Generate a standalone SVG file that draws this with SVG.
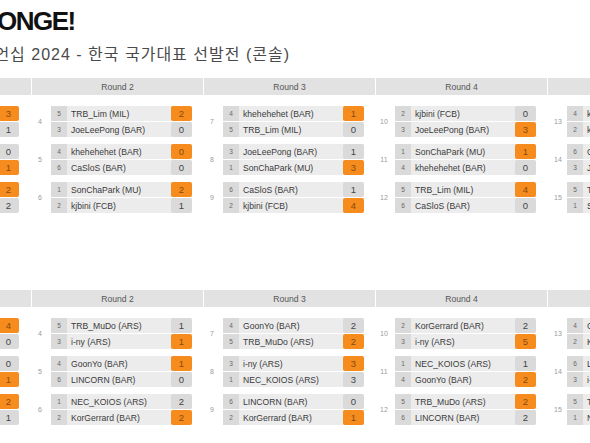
<svg xmlns="http://www.w3.org/2000/svg" width="590" height="443" viewBox="0 0 590 443">
<style>
text{font-family:"Liberation Sans",Arial,sans-serif}
.hd{fill:#e2e2e2}
.ht{font-size:8.6px;fill:#555;text-anchor:middle}
.nm{fill:#ececec}
.sd{fill:#dadada}
.sc{fill:#dadada}
.win{fill:#f68c1e}
.sdt{font-size:6.5px;fill:#666;text-anchor:middle}
.nmt{font-size:8.6px;fill:#3a3a3a}
.sct{font-size:9.5px;fill:#444;text-anchor:middle}
.wt{fill:#8a4a0c}
.mn{font-size:7px;fill:#9a9a9a;text-anchor:middle}
</style>
<rect width="590" height="443" fill="#fff"/>
<text x="-3" y="30" style="font-size:26px;font-weight:bold;letter-spacing:-1.5px;fill:#111">ONGE!</text>
<text x="290" y="60" style="font-family:'Liberation Sans','Noto Sans CJK KR',sans-serif;font-size:16px;letter-spacing:1px;fill:#4a4a4a;text-anchor:end">언십 2024 - 한국 국가대표 선발전 (콘솔)</text>

<g id="headers">
<rect class="hd" x="0" y="78" width="31" height="17"/>
<rect class="hd" x="32" y="78" width="171" height="17"/>
<rect class="hd" x="204" y="78" width="171" height="17"/>
<rect class="hd" x="376" y="78" width="171" height="17"/>
<rect class="hd" x="548" y="78" width="42" height="17"/>
<text class="ht" x="117.5" y="90">Round 2</text>
<text class="ht" x="289.5" y="90">Round 3</text>
<text class="ht" x="461.5" y="90">Round 4</text>
<rect class="hd" x="0" y="290" width="31" height="17"/>
<rect class="hd" x="32" y="290" width="171" height="17"/>
<rect class="hd" x="204" y="290" width="171" height="17"/>
<rect class="hd" x="376" y="290" width="171" height="17"/>
<rect class="hd" x="548" y="290" width="42" height="17"/>
<text class="ht" x="117.5" y="302">Round 2</text>
<text class="ht" x="289.5" y="302">Round 3</text>
<text class="ht" x="461.5" y="302">Round 4</text>
</g>

<g id="connectors"></g>

<!-- Top bracket, Round 1 (scores only visible) -->
<g id="t-m1" transform="translate(-2,106)">
<rect class="win" width="21" height="15" rx="2"/><rect class="sc" y="16" width="21" height="15" rx="2"/>
<text class="sct wt" x="10.5" y="11.3">3</text><text class="sct" x="10.5" y="27.3">1</text>
</g>
<g id="t-m2" transform="translate(-2,144)">
<rect class="sc" width="21" height="15" rx="2"/><rect class="win" y="16" width="21" height="15" rx="2"/>
<text class="sct" x="10.5" y="11.3">0</text><text class="sct wt" x="10.5" y="27.3">1</text>
</g>
<g id="t-m3" transform="translate(-2,182)">
<rect class="win" width="21" height="15" rx="2"/><rect class="sc" y="16" width="21" height="15" rx="2"/>
<text class="sct wt" x="10.5" y="11.3">2</text><text class="sct" x="10.5" y="27.3">2</text>
</g>

<!-- Top bracket, Round 2 -->
<g id="t-m4" transform="translate(51,106)">
<text class="mn" x="-11" y="18">4</text>
<rect class="nm" width="141" height="15" rx="2"/><rect class="nm" y="16" width="141" height="15" rx="2"/>
<rect class="sd" width="16" height="15"/><rect class="sd" y="16" width="16" height="15"/>
<rect class="win" x="120" width="21" height="15" rx="2"/><rect class="sc" x="120" y="16" width="21" height="15" rx="2"/>
<text class="sdt" x="8" y="10">5</text><text class="nmt" x="20" y="10.8">TRB_Lim (MIL)</text><text class="sct wt" x="130.5" y="11.3">2</text>
<text class="sdt" x="8" y="26">3</text><text class="nmt" x="20" y="26.8">JoeLeePong (BAR)</text><text class="sct" x="130.5" y="27.3">0</text>
</g>
<g id="t-m5" transform="translate(51,144)">
<text class="mn" x="-11" y="18">5</text>
<rect class="nm" width="141" height="15" rx="2"/><rect class="nm" y="16" width="141" height="15" rx="2"/>
<rect class="sd" width="16" height="15"/><rect class="sd" y="16" width="16" height="15"/>
<rect class="win" x="120" width="21" height="15" rx="2"/><rect class="sc" x="120" y="16" width="21" height="15" rx="2"/>
<text class="sdt" x="8" y="10">4</text><text class="nmt" x="20" y="10.8">khehehehet (BAR)</text><text class="sct wt" x="130.5" y="11.3">0</text>
<text class="sdt" x="8" y="26">6</text><text class="nmt" x="20" y="26.8">CaSloS (BAR)</text><text class="sct" x="130.5" y="27.3">0</text>
</g>
<g id="t-m6" transform="translate(51,182)">
<text class="mn" x="-11" y="18">6</text>
<rect class="nm" width="141" height="15" rx="2"/><rect class="nm" y="16" width="141" height="15" rx="2"/>
<rect class="sd" width="16" height="15"/><rect class="sd" y="16" width="16" height="15"/>
<rect class="win" x="120" width="21" height="15" rx="2"/><rect class="sc" x="120" y="16" width="21" height="15" rx="2"/>
<text class="sdt" x="8" y="10">1</text><text class="nmt" x="20" y="10.8">SonChaPark (MU)</text><text class="sct wt" x="130.5" y="11.3">2</text>
<text class="sdt" x="8" y="26">2</text><text class="nmt" x="20" y="26.8">kjbini (FCB)</text><text class="sct" x="130.5" y="27.3">1</text>
</g>

<!-- Top bracket, Round 3 -->
<g id="t-m7" transform="translate(223,106)">
<text class="mn" x="-11" y="18">7</text>
<rect class="nm" width="141" height="15" rx="2"/><rect class="nm" y="16" width="141" height="15" rx="2"/>
<rect class="sd" width="16" height="15"/><rect class="sd" y="16" width="16" height="15"/>
<rect class="win" x="120" width="21" height="15" rx="2"/><rect class="sc" x="120" y="16" width="21" height="15" rx="2"/>
<text class="sdt" x="8" y="10">4</text><text class="nmt" x="20" y="10.8">khehehehet (BAR)</text><text class="sct wt" x="130.5" y="11.3">1</text>
<text class="sdt" x="8" y="26">5</text><text class="nmt" x="20" y="26.8">TRB_Lim (MIL)</text><text class="sct" x="130.5" y="27.3">0</text>
</g>
<g id="t-m8" transform="translate(223,144)">
<text class="mn" x="-11" y="18">8</text>
<rect class="nm" width="141" height="15" rx="2"/><rect class="nm" y="16" width="141" height="15" rx="2"/>
<rect class="sd" width="16" height="15"/><rect class="sd" y="16" width="16" height="15"/>
<rect class="sc" x="120" width="21" height="15" rx="2"/><rect class="win" x="120" y="16" width="21" height="15" rx="2"/>
<text class="sdt" x="8" y="10">3</text><text class="nmt" x="20" y="10.8">JoeLeePong (BAR)</text><text class="sct" x="130.5" y="11.3">1</text>
<text class="sdt" x="8" y="26">1</text><text class="nmt" x="20" y="26.8">SonChaPark (MU)</text><text class="sct wt" x="130.5" y="27.3">3</text>
</g>
<g id="t-m9" transform="translate(223,182)">
<text class="mn" x="-11" y="18">9</text>
<rect class="nm" width="141" height="15" rx="2"/><rect class="nm" y="16" width="141" height="15" rx="2"/>
<rect class="sd" width="16" height="15"/><rect class="sd" y="16" width="16" height="15"/>
<rect class="sc" x="120" width="21" height="15" rx="2"/><rect class="win" x="120" y="16" width="21" height="15" rx="2"/>
<text class="sdt" x="8" y="10">6</text><text class="nmt" x="20" y="10.8">CaSloS (BAR)</text><text class="sct" x="130.5" y="11.3">1</text>
<text class="sdt" x="8" y="26">2</text><text class="nmt" x="20" y="26.8">kjbini (FCB)</text><text class="sct wt" x="130.5" y="27.3">4</text>
</g>

<!-- Top bracket, Round 4 -->
<g id="t-m10" transform="translate(395,106)">
<text class="mn" x="-11" y="18">10</text>
<rect class="nm" width="141" height="15" rx="2"/><rect class="nm" y="16" width="141" height="15" rx="2"/>
<rect class="sd" width="16" height="15"/><rect class="sd" y="16" width="16" height="15"/>
<rect class="sc" x="120" width="21" height="15" rx="2"/><rect class="win" x="120" y="16" width="21" height="15" rx="2"/>
<text class="sdt" x="8" y="10">2</text><text class="nmt" x="20" y="10.8">kjbini (FCB)</text><text class="sct" x="130.5" y="11.3">0</text>
<text class="sdt" x="8" y="26">3</text><text class="nmt" x="20" y="26.8">JoeLeePong (BAR)</text><text class="sct wt" x="130.5" y="27.3">3</text>
</g>
<g id="t-m11" transform="translate(395,144)">
<text class="mn" x="-11" y="18">11</text>
<rect class="nm" width="141" height="15" rx="2"/><rect class="nm" y="16" width="141" height="15" rx="2"/>
<rect class="sd" width="16" height="15"/><rect class="sd" y="16" width="16" height="15"/>
<rect class="win" x="120" width="21" height="15" rx="2"/><rect class="sc" x="120" y="16" width="21" height="15" rx="2"/>
<text class="sdt" x="8" y="10">1</text><text class="nmt" x="20" y="10.8">SonChaPark (MU)</text><text class="sct wt" x="130.5" y="11.3">1</text>
<text class="sdt" x="8" y="26">4</text><text class="nmt" x="20" y="26.8">khehehehet (BAR)</text><text class="sct" x="130.5" y="27.3">0</text>
</g>
<g id="t-m12" transform="translate(395,182)">
<text class="mn" x="-11" y="18">12</text>
<rect class="nm" width="141" height="15" rx="2"/><rect class="nm" y="16" width="141" height="15" rx="2"/>
<rect class="sd" width="16" height="15"/><rect class="sd" y="16" width="16" height="15"/>
<rect class="win" x="120" width="21" height="15" rx="2"/><rect class="sc" x="120" y="16" width="21" height="15" rx="2"/>
<text class="sdt" x="8" y="10">5</text><text class="nmt" x="20" y="10.8">TRB_Lim (MIL)</text><text class="sct wt" x="130.5" y="11.3">4</text>
<text class="sdt" x="8" y="26">6</text><text class="nmt" x="20" y="26.8">CaSloS (BAR)</text><text class="sct" x="130.5" y="27.3">0</text>
</g>

<!-- Top bracket, Round 5 (partially visible) -->
<g id="t-m13" transform="translate(567,106)">
<text class="mn" x="-9" y="18">13</text>
<rect class="nm" width="141" height="15" rx="2"/><rect class="nm" y="16" width="141" height="15" rx="2"/>
<rect class="sd" width="16" height="15"/><rect class="sd" y="16" width="16" height="15"/>
<text class="sdt" x="8" y="10">4</text><text class="nmt" x="20" y="10.8">khehehehet (BAR)</text>
<text class="sdt" x="8" y="26">2</text><text class="nmt" x="20" y="26.8">kjbini (FCB)</text>
</g>
<g id="t-m14" transform="translate(567,144)">
<text class="mn" x="-9" y="18">14</text>
<rect class="nm" width="141" height="15" rx="2"/><rect class="nm" y="16" width="141" height="15" rx="2"/>
<rect class="sd" width="16" height="15"/><rect class="sd" y="16" width="16" height="15"/>
<text class="sdt" x="8" y="10">6</text><text class="nmt" x="20" y="10.8">CaSloS (BAR)</text>
<text class="sdt" x="8" y="26">3</text><text class="nmt" x="20" y="26.8">JoeLeePong (BAR)</text>
</g>
<g id="t-m15" transform="translate(567,182)">
<text class="mn" x="-9" y="18">15</text>
<rect class="nm" width="141" height="15" rx="2"/><rect class="nm" y="16" width="141" height="15" rx="2"/>
<rect class="sd" width="16" height="15"/><rect class="sd" y="16" width="16" height="15"/>
<text class="sdt" x="8" y="10">5</text><text class="nmt" x="20" y="10.8">TRB_Lim (MIL)</text>
<text class="sdt" x="8" y="26">1</text><text class="nmt" x="20" y="26.8">SonChaPark (MU)</text>
</g>

<!-- Bottom bracket, Round 1 (scores only visible) -->
<g id="b-m1" transform="translate(-2,318)">
<rect class="win" width="21" height="15" rx="2"/><rect class="sc" y="16" width="21" height="15" rx="2"/>
<text class="sct wt" x="10.5" y="11.3">4</text><text class="sct" x="10.5" y="27.3">0</text>
</g>
<g id="b-m2" transform="translate(-2,356)">
<rect class="sc" width="21" height="15" rx="2"/><rect class="win" y="16" width="21" height="15" rx="2"/>
<text class="sct" x="10.5" y="11.3">0</text><text class="sct wt" x="10.5" y="27.3">1</text>
</g>
<g id="b-m3" transform="translate(-2,394)">
<rect class="win" width="21" height="15" rx="2"/><rect class="sc" y="16" width="21" height="15" rx="2"/>
<text class="sct wt" x="10.5" y="11.3">2</text><text class="sct" x="10.5" y="27.3">1</text>
</g>

<!-- Bottom bracket, Round 2 -->
<g id="b-m4" transform="translate(51,318)">
<text class="mn" x="-11" y="18">4</text>
<rect class="nm" width="141" height="15" rx="2"/><rect class="nm" y="16" width="141" height="15" rx="2"/>
<rect class="sd" width="16" height="15"/><rect class="sd" y="16" width="16" height="15"/>
<rect class="sc" x="120" width="21" height="15" rx="2"/><rect class="win" x="120" y="16" width="21" height="15" rx="2"/>
<text class="sdt" x="8" y="10">5</text><text class="nmt" x="20" y="10.8">TRB_MuDo (ARS)</text><text class="sct" x="130.5" y="11.3">1</text>
<text class="sdt" x="8" y="26">3</text><text class="nmt" x="20" y="26.8">i-ny (ARS)</text><text class="sct wt" x="130.5" y="27.3">1</text>
</g>
<g id="b-m5" transform="translate(51,356)">
<text class="mn" x="-11" y="18">5</text>
<rect class="nm" width="141" height="15" rx="2"/><rect class="nm" y="16" width="141" height="15" rx="2"/>
<rect class="sd" width="16" height="15"/><rect class="sd" y="16" width="16" height="15"/>
<rect class="win" x="120" width="21" height="15" rx="2"/><rect class="sc" x="120" y="16" width="21" height="15" rx="2"/>
<text class="sdt" x="8" y="10">4</text><text class="nmt" x="20" y="10.8">GoonYo (BAR)</text><text class="sct wt" x="130.5" y="11.3">1</text>
<text class="sdt" x="8" y="26">6</text><text class="nmt" x="20" y="26.8">LINCORN (BAR)</text><text class="sct" x="130.5" y="27.3">0</text>
</g>
<g id="b-m6" transform="translate(51,394)">
<text class="mn" x="-11" y="18">6</text>
<rect class="nm" width="141" height="15" rx="2"/><rect class="nm" y="16" width="141" height="15" rx="2"/>
<rect class="sd" width="16" height="15"/><rect class="sd" y="16" width="16" height="15"/>
<rect class="sc" x="120" width="21" height="15" rx="2"/><rect class="win" x="120" y="16" width="21" height="15" rx="2"/>
<text class="sdt" x="8" y="10">1</text><text class="nmt" x="20" y="10.8">NEC_KOIOS (ARS)</text><text class="sct" x="130.5" y="11.3">2</text>
<text class="sdt" x="8" y="26">2</text><text class="nmt" x="20" y="26.8">KorGerrard (BAR)</text><text class="sct wt" x="130.5" y="27.3">2</text>
</g>

<!-- Bottom bracket, Round 3 -->
<g id="b-m7" transform="translate(223,318)">
<text class="mn" x="-11" y="18">7</text>
<rect class="nm" width="141" height="15" rx="2"/><rect class="nm" y="16" width="141" height="15" rx="2"/>
<rect class="sd" width="16" height="15"/><rect class="sd" y="16" width="16" height="15"/>
<rect class="sc" x="120" width="21" height="15" rx="2"/><rect class="win" x="120" y="16" width="21" height="15" rx="2"/>
<text class="sdt" x="8" y="10">4</text><text class="nmt" x="20" y="10.8">GoonYo (BAR)</text><text class="sct" x="130.5" y="11.3">2</text>
<text class="sdt" x="8" y="26">5</text><text class="nmt" x="20" y="26.8">TRB_MuDo (ARS)</text><text class="sct wt" x="130.5" y="27.3">2</text>
</g>
<g id="b-m8" transform="translate(223,356)">
<text class="mn" x="-11" y="18">8</text>
<rect class="nm" width="141" height="15" rx="2"/><rect class="nm" y="16" width="141" height="15" rx="2"/>
<rect class="sd" width="16" height="15"/><rect class="sd" y="16" width="16" height="15"/>
<rect class="win" x="120" width="21" height="15" rx="2"/><rect class="sc" x="120" y="16" width="21" height="15" rx="2"/>
<text class="sdt" x="8" y="10">3</text><text class="nmt" x="20" y="10.8">i-ny (ARS)</text><text class="sct wt" x="130.5" y="11.3">3</text>
<text class="sdt" x="8" y="26">1</text><text class="nmt" x="20" y="26.8">NEC_KOIOS (ARS)</text><text class="sct" x="130.5" y="27.3">3</text>
</g>
<g id="b-m9" transform="translate(223,394)">
<text class="mn" x="-11" y="18">9</text>
<rect class="nm" width="141" height="15" rx="2"/><rect class="nm" y="16" width="141" height="15" rx="2"/>
<rect class="sd" width="16" height="15"/><rect class="sd" y="16" width="16" height="15"/>
<rect class="sc" x="120" width="21" height="15" rx="2"/><rect class="win" x="120" y="16" width="21" height="15" rx="2"/>
<text class="sdt" x="8" y="10">6</text><text class="nmt" x="20" y="10.8">LINCORN (BAR)</text><text class="sct" x="130.5" y="11.3">0</text>
<text class="sdt" x="8" y="26">2</text><text class="nmt" x="20" y="26.8">KorGerrard (BAR)</text><text class="sct wt" x="130.5" y="27.3">1</text>
</g>

<!-- Bottom bracket, Round 4 -->
<g id="b-m10" transform="translate(395,318)">
<text class="mn" x="-11" y="18">10</text>
<rect class="nm" width="141" height="15" rx="2"/><rect class="nm" y="16" width="141" height="15" rx="2"/>
<rect class="sd" width="16" height="15"/><rect class="sd" y="16" width="16" height="15"/>
<rect class="sc" x="120" width="21" height="15" rx="2"/><rect class="win" x="120" y="16" width="21" height="15" rx="2"/>
<text class="sdt" x="8" y="10">2</text><text class="nmt" x="20" y="10.8">KorGerrard (BAR)</text><text class="sct" x="130.5" y="11.3">2</text>
<text class="sdt" x="8" y="26">3</text><text class="nmt" x="20" y="26.8">i-ny (ARS)</text><text class="sct wt" x="130.5" y="27.3">5</text>
</g>
<g id="b-m11" transform="translate(395,356)">
<text class="mn" x="-11" y="18">11</text>
<rect class="nm" width="141" height="15" rx="2"/><rect class="nm" y="16" width="141" height="15" rx="2"/>
<rect class="sd" width="16" height="15"/><rect class="sd" y="16" width="16" height="15"/>
<rect class="sc" x="120" width="21" height="15" rx="2"/><rect class="win" x="120" y="16" width="21" height="15" rx="2"/>
<text class="sdt" x="8" y="10">1</text><text class="nmt" x="20" y="10.8">NEC_KOIOS (ARS)</text><text class="sct" x="130.5" y="11.3">1</text>
<text class="sdt" x="8" y="26">4</text><text class="nmt" x="20" y="26.8">GoonYo (BAR)</text><text class="sct wt" x="130.5" y="27.3">2</text>
</g>
<g id="b-m12" transform="translate(395,394)">
<text class="mn" x="-11" y="18">12</text>
<rect class="nm" width="141" height="15" rx="2"/><rect class="nm" y="16" width="141" height="15" rx="2"/>
<rect class="sd" width="16" height="15"/><rect class="sd" y="16" width="16" height="15"/>
<rect class="win" x="120" width="21" height="15" rx="2"/><rect class="sc" x="120" y="16" width="21" height="15" rx="2"/>
<text class="sdt" x="8" y="10">5</text><text class="nmt" x="20" y="10.8">TRB_MuDo (ARS)</text><text class="sct wt" x="130.5" y="11.3">2</text>
<text class="sdt" x="8" y="26">6</text><text class="nmt" x="20" y="26.8">LINCORN (BAR)</text><text class="sct" x="130.5" y="27.3">2</text>
</g>

<!-- Bottom bracket, Round 5 (partially visible) -->
<g id="b-m13" transform="translate(567,318)">
<text class="mn" x="-9" y="18">13</text>
<rect class="nm" width="141" height="15" rx="2"/><rect class="nm" y="16" width="141" height="15" rx="2"/>
<rect class="sd" width="16" height="15"/><rect class="sd" y="16" width="16" height="15"/>
<text class="sdt" x="8" y="10">4</text><text class="nmt" x="20" y="10.8">GoonYo (BAR)</text>
<text class="sdt" x="8" y="26">2</text><text class="nmt" x="20" y="26.8">KorGerrard (BAR)</text>
</g>
<g id="b-m14" transform="translate(567,356)">
<text class="mn" x="-9" y="18">14</text>
<rect class="nm" width="141" height="15" rx="2"/><rect class="nm" y="16" width="141" height="15" rx="2"/>
<rect class="sd" width="16" height="15"/><rect class="sd" y="16" width="16" height="15"/>
<text class="sdt" x="8" y="10">6</text><text class="nmt" x="20" y="10.8">LINCORN (BAR)</text>
<text class="sdt" x="8" y="26">3</text><text class="nmt" x="20" y="26.8">i-ny (ARS)</text>
</g>
<g id="b-m15" transform="translate(567,394)">
<text class="mn" x="-9" y="18">15</text>
<rect class="nm" width="141" height="15" rx="2"/><rect class="nm" y="16" width="141" height="15" rx="2"/>
<rect class="sd" width="16" height="15"/><rect class="sd" y="16" width="16" height="15"/>
<text class="sdt" x="8" y="10">5</text><text class="nmt" x="20" y="10.8">TRB_MuDo (ARS)</text>
<text class="sdt" x="8" y="26">1</text><text class="nmt" x="20" y="26.8">NEC_KOIOS (ARS)</text>
</g>
</svg>
